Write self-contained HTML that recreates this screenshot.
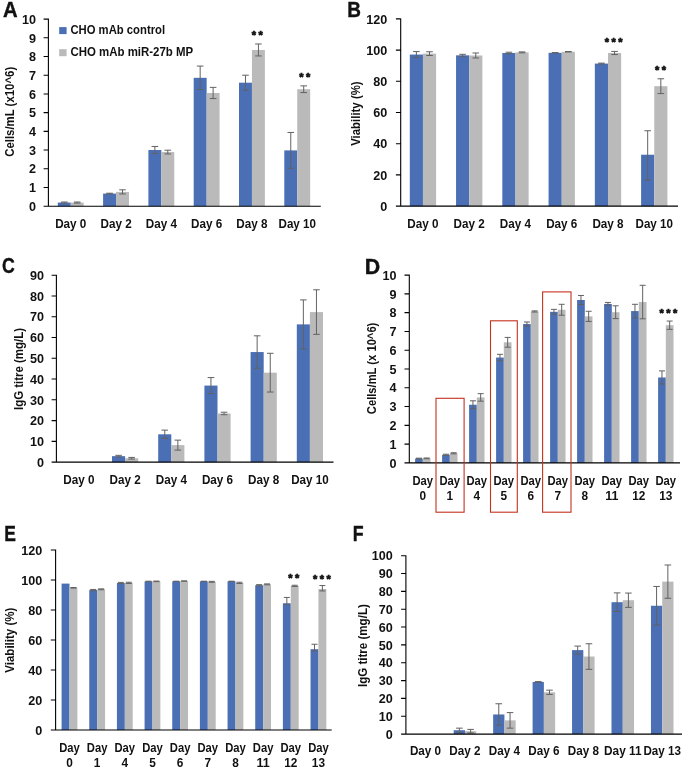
<!DOCTYPE html>
<html lang="en"><head><meta charset="utf-8"><title>Figure</title>
<style>
html,body{margin:0;padding:0;background:#fff}
svg{display:block;filter:blur(0.3px)}
text{font-family:"Liberation Sans",Arial,sans-serif;font-weight:bold;fill:#111}
</style></head><body>
<svg width="685" height="770" viewBox="0 0 685 770">
<rect width="685" height="770" fill="#fff"/>
<rect x="57.80" y="202.56" width="12.94" height="3.64" fill="#4a6fb5"/>
<rect x="70.74" y="202.56" width="12.94" height="3.64" fill="#bababa"/>
<rect x="103.10" y="193.58" width="12.94" height="12.62" fill="#4a6fb5"/>
<rect x="116.04" y="191.9" width="12.94" height="14.30" fill="#bababa"/>
<rect x="148.40" y="150.01" width="12.94" height="56.19" fill="#4a6fb5"/>
<rect x="161.34" y="152.07" width="12.94" height="54.13" fill="#bababa"/>
<rect x="193.70" y="77.83" width="12.94" height="128.37" fill="#4a6fb5"/>
<rect x="206.64" y="92.98" width="12.94" height="113.22" fill="#bababa"/>
<rect x="239.00" y="82.69" width="12.94" height="123.51" fill="#4a6fb5"/>
<rect x="251.94" y="49.97" width="12.94" height="156.23" fill="#bababa"/>
<rect x="284.30" y="150.39" width="12.94" height="55.81" fill="#4a6fb5"/>
<rect x="297.24" y="89.24" width="12.94" height="116.96" fill="#bababa"/>
<path d="M64.27 202.0V203.12M60.97 202.0h6.6M60.97 203.12h6.6M77.21 202.0V203.12M73.91 202.0h6.6M73.91 203.12h6.6M109.57 193.21V193.96M106.27 193.21h6.6M106.27 193.96h6.6M122.51 189.84V193.96M119.21 189.84h6.6M119.21 193.96h6.6M154.87 146.46V153.57M151.57 146.46h6.6M151.57 153.57h6.6M167.81 150.2V153.94M164.51 150.2h6.6M164.51 153.94h6.6M200.17 66.05V89.61M196.87 66.05h6.6M196.87 89.61h6.6M213.11 87.37V98.59M209.81 87.37h6.6M209.81 98.59h6.6M245.47 75.21V90.17M242.17 75.21h6.6M242.17 90.17h6.6M258.41 43.98V55.95M255.11 43.98h6.6M255.11 55.95h6.6M290.77 132.44V168.34M287.47 132.44h6.6M287.47 168.34h6.6M303.71 85.87V92.6M300.41 85.87h6.6M300.41 92.6h6.6" stroke="#626262" stroke-width="1" fill="none"/>
<path d="M48.4 18.6V206.2M47.9 206.2H320.8M43.6 206.2H48.4M43.6 187.49H48.4M43.6 168.78H48.4M43.6 150.07H48.4M43.6 131.36H48.4M43.6 112.65H48.4M43.6 93.94H48.4M43.6 75.23H48.4M43.6 56.52H48.4M43.6 37.81H48.4M43.6 19.1H48.4" stroke="#000" stroke-width="1.1" fill="none"/>
<text x="35.9" y="210.9" font-size="12.6" text-anchor="end">0</text>
<text x="35.9" y="192.19" font-size="12.6" text-anchor="end">1</text>
<text x="35.9" y="173.48" font-size="12.6" text-anchor="end">2</text>
<text x="35.9" y="154.77" font-size="12.6" text-anchor="end">3</text>
<text x="35.9" y="136.06" font-size="12.6" text-anchor="end">4</text>
<text x="35.9" y="117.35" font-size="12.6" text-anchor="end">5</text>
<text x="35.9" y="98.64" font-size="12.6" text-anchor="end">6</text>
<text x="35.9" y="79.93" font-size="12.6" text-anchor="end">7</text>
<text x="35.9" y="61.22" font-size="12.6" text-anchor="end">8</text>
<text x="35.9" y="42.51" font-size="12.6" text-anchor="end">9</text>
<text x="35.9" y="23.8" font-size="12.6" text-anchor="end">10</text>
<text x="70.74" y="228.1" font-size="12.6" text-anchor="middle" textLength="31.2" lengthAdjust="spacingAndGlyphs">Day 0</text>
<text x="116.04" y="228.1" font-size="12.6" text-anchor="middle" textLength="31.2" lengthAdjust="spacingAndGlyphs">Day 2</text>
<text x="161.34" y="228.1" font-size="12.6" text-anchor="middle" textLength="31.2" lengthAdjust="spacingAndGlyphs">Day 4</text>
<text x="206.64" y="228.1" font-size="12.6" text-anchor="middle" textLength="31.2" lengthAdjust="spacingAndGlyphs">Day 6</text>
<text x="251.94" y="228.1" font-size="12.6" text-anchor="middle" textLength="31.2" lengthAdjust="spacingAndGlyphs">Day 8</text>
<text x="297.24" y="228.1" font-size="12.6" text-anchor="middle" textLength="37.5" lengthAdjust="spacingAndGlyphs">Day 10</text>
<text x="14" y="111.8" font-size="12.6" text-anchor="middle" textLength="90" lengthAdjust="spacingAndGlyphs" transform="rotate(-90 14 111.8)">Cells/mL (x10^6)</text>
<text x="258.63" y="38.9" font-size="11" text-anchor="middle" letter-spacing="2.47" stroke="#111" stroke-width="0.7">**</text>
<text x="306.13" y="81.0" font-size="11" text-anchor="middle" letter-spacing="2.47" stroke="#111" stroke-width="0.7">**</text>
<text x="2.9" y="16.7" font-size="21.4" textLength="14.64" lengthAdjust="spacingAndGlyphs" stroke="#111" stroke-width="0.4">A</text>
<rect x="409.80" y="54.55" width="13.15" height="151.55" fill="#4a6fb5"/>
<rect x="422.95" y="53.62" width="13.15" height="152.48" fill="#bababa"/>
<rect x="456.06" y="55.33" width="13.15" height="150.77" fill="#4a6fb5"/>
<rect x="469.21" y="55.49" width="13.15" height="150.61" fill="#bababa"/>
<rect x="502.32" y="52.99" width="13.15" height="153.11" fill="#4a6fb5"/>
<rect x="515.47" y="52.37" width="13.15" height="153.73" fill="#bababa"/>
<rect x="548.58" y="52.84" width="13.15" height="153.26" fill="#4a6fb5"/>
<rect x="561.73" y="51.75" width="13.15" height="154.35" fill="#bababa"/>
<rect x="594.84" y="63.59" width="13.15" height="142.51" fill="#4a6fb5"/>
<rect x="607.99" y="52.99" width="13.15" height="153.11" fill="#bababa"/>
<rect x="641.10" y="154.73" width="13.15" height="51.37" fill="#4a6fb5"/>
<rect x="654.25" y="86.18" width="13.15" height="119.92" fill="#bababa"/>
<path d="M416.38 51.59V57.51M413.07 51.59h6.6M413.07 57.51h6.6M429.52 51.75V55.49M426.22 51.75h6.6M426.22 55.49h6.6M462.63 54.32V56.34M459.33 54.32h6.6M459.33 56.34h6.6M475.78 52.99V57.98M472.48 52.99h6.6M472.48 57.98h6.6M508.89 52.21V53.77M505.59 52.21h6.6M505.59 53.77h6.6M522.05 51.9V52.84M518.75 51.9h6.6M518.75 52.84h6.6M555.16 52.6V53.07M551.86 52.6h6.6M551.86 53.07h6.6M568.31 51.51V51.98M565.01 51.51h6.6M565.01 51.98h6.6M601.42 63.12V64.05M598.12 63.12h6.6M598.12 64.05h6.6M614.57 51.43V54.55M611.27 51.43h6.6M611.27 54.55h6.6M647.68 130.74V180.13M644.38 130.74h6.6M644.38 180.13h6.6M660.83 78.78V93.58M657.53 78.78h6.6M657.53 93.58h6.6" stroke="#626262" stroke-width="1" fill="none"/>
<path d="M400.7 18.4V206.1M400.2 206.1H678M395.9 206.1H400.7M395.9 174.9H400.7M395.9 143.7H400.7M395.9 112.5H400.7M395.9 81.3H400.7M395.9 50.1H400.7M395.9 18.9H400.7" stroke="#000" stroke-width="1.1" fill="none"/>
<text x="387.2" y="210.8" font-size="12.6" text-anchor="end">0</text>
<text x="387.2" y="179.6" font-size="12.6" text-anchor="end">20</text>
<text x="387.2" y="148.4" font-size="12.6" text-anchor="end">40</text>
<text x="387.2" y="117.2" font-size="12.6" text-anchor="end">60</text>
<text x="387.2" y="86.0" font-size="12.6" text-anchor="end">80</text>
<text x="387.2" y="54.8" font-size="12.6" text-anchor="end">100</text>
<text x="387.2" y="23.6" font-size="12.6" text-anchor="end">120</text>
<text x="422.95" y="228.1" font-size="12.6" text-anchor="middle" textLength="31.2" lengthAdjust="spacingAndGlyphs">Day 0</text>
<text x="469.21" y="228.1" font-size="12.6" text-anchor="middle" textLength="31.2" lengthAdjust="spacingAndGlyphs">Day 2</text>
<text x="515.47" y="228.1" font-size="12.6" text-anchor="middle" textLength="31.2" lengthAdjust="spacingAndGlyphs">Day 4</text>
<text x="561.73" y="228.1" font-size="12.6" text-anchor="middle" textLength="31.2" lengthAdjust="spacingAndGlyphs">Day 6</text>
<text x="607.99" y="228.1" font-size="12.6" text-anchor="middle" textLength="31.2" lengthAdjust="spacingAndGlyphs">Day 8</text>
<text x="654.25" y="228.1" font-size="12.6" text-anchor="middle" textLength="37.5" lengthAdjust="spacingAndGlyphs">Day 10</text>
<text x="360" y="113.6" font-size="12.6" text-anchor="middle" textLength="64.5" lengthAdjust="spacingAndGlyphs" transform="rotate(-90 360 113.6)">Viability (%)</text>
<text x="614.9300000000001" y="45.6" font-size="11" text-anchor="middle" letter-spacing="2.47" stroke="#111" stroke-width="0.7">***</text>
<text x="661.83" y="74.39999999999999" font-size="11" text-anchor="middle" letter-spacing="2.47" stroke="#111" stroke-width="0.7">**</text>
<text x="347.23" y="16.7" font-size="21.4" textLength="13.68" lengthAdjust="spacingAndGlyphs" stroke="#111" stroke-width="0.4">B</text>
<rect x="112.00" y="456.16" width="13.10" height="5.94" fill="#4a6fb5"/>
<rect x="125.10" y="458.24" width="13.10" height="3.86" fill="#bababa"/>
<rect x="158.20" y="434.3" width="13.10" height="27.80" fill="#4a6fb5"/>
<rect x="171.30" y="445.13" width="13.10" height="16.97" fill="#bababa"/>
<rect x="204.40" y="385.58" width="13.10" height="76.52" fill="#4a6fb5"/>
<rect x="217.50" y="413.48" width="13.10" height="48.62" fill="#bababa"/>
<rect x="250.60" y="352.06" width="13.10" height="110.04" fill="#4a6fb5"/>
<rect x="263.70" y="372.67" width="13.10" height="89.43" fill="#bababa"/>
<rect x="296.80" y="324.37" width="13.10" height="137.73" fill="#4a6fb5"/>
<rect x="309.90" y="312.09" width="13.10" height="150.01" fill="#bababa"/>
<path d="M118.55 455.33V457.0M115.25 455.33h6.6M115.25 457.0h6.6M131.65 457.41V459.08M128.35 457.41h6.6M128.35 459.08h6.6M164.75 430.14V438.47M161.45 430.14h6.6M161.45 438.47h6.6M177.85 440.13V450.12M174.55 440.13h6.6M174.55 450.12h6.6M210.95 377.57V393.6M207.65 377.57h6.6M207.65 393.6h6.6M224.05 412.23V414.73M220.75 412.23h6.6M220.75 414.73h6.6M257.15 335.82V368.3M253.85 335.82h6.6M253.85 368.3h6.6M270.25 353.31V392.04M266.95 353.31h6.6M266.95 392.04h6.6M303.35 299.91V348.84M300.05 299.91h6.6M300.05 348.84h6.6M316.45 289.81V334.37M313.15 289.81h6.6M313.15 334.37h6.6" stroke="#626262" stroke-width="1" fill="none"/>
<path d="M56.4 274.76V462.1M55.9 462.1H333.5M51.6 462.1H56.4M51.6 441.34H56.4M51.6 420.58H56.4M51.6 399.82H56.4M51.6 379.06H56.4M51.6 358.3H56.4M51.6 337.54H56.4M51.6 316.78H56.4M51.6 296.02H56.4M51.6 275.26H56.4" stroke="#000" stroke-width="1.1" fill="none"/>
<text x="44.1" y="466.8" font-size="12.6" text-anchor="end">0</text>
<text x="44.1" y="446.04" font-size="12.6" text-anchor="end">10</text>
<text x="44.1" y="425.28" font-size="12.6" text-anchor="end">20</text>
<text x="44.1" y="404.52" font-size="12.6" text-anchor="end">30</text>
<text x="44.1" y="383.76" font-size="12.6" text-anchor="end">40</text>
<text x="44.1" y="363.0" font-size="12.6" text-anchor="end">50</text>
<text x="44.1" y="342.24" font-size="12.6" text-anchor="end">60</text>
<text x="44.1" y="321.48" font-size="12.6" text-anchor="end">70</text>
<text x="44.1" y="300.72" font-size="12.6" text-anchor="end">80</text>
<text x="44.1" y="279.96" font-size="12.6" text-anchor="end">90</text>
<text x="78.9" y="483.8" font-size="12.6" text-anchor="middle" textLength="31.2" lengthAdjust="spacingAndGlyphs">Day 0</text>
<text x="125.1" y="483.8" font-size="12.6" text-anchor="middle" textLength="31.2" lengthAdjust="spacingAndGlyphs">Day 2</text>
<text x="171.3" y="483.8" font-size="12.6" text-anchor="middle" textLength="31.2" lengthAdjust="spacingAndGlyphs">Day 4</text>
<text x="217.5" y="483.8" font-size="12.6" text-anchor="middle" textLength="31.2" lengthAdjust="spacingAndGlyphs">Day 6</text>
<text x="263.7" y="483.8" font-size="12.6" text-anchor="middle" textLength="31.2" lengthAdjust="spacingAndGlyphs">Day 8</text>
<text x="309.9" y="483.8" font-size="12.6" text-anchor="middle" textLength="37.5" lengthAdjust="spacingAndGlyphs">Day 10</text>
<text x="22.6" y="369" font-size="12.6" text-anchor="middle" textLength="82" lengthAdjust="spacingAndGlyphs" transform="rotate(-90 22.6 369)">IgG titre (mg/L)</text>
<text x="2.07" y="272.8" font-size="21.4" textLength="12.81" lengthAdjust="spacingAndGlyphs" stroke="#111" stroke-width="0.4">C</text>
<rect x="415.10" y="458.55" width="7.71" height="4.35" fill="#4a6fb5"/>
<rect x="422.81" y="458.36" width="7.71" height="4.54" fill="#bababa"/>
<rect x="442.10" y="454.79" width="7.71" height="8.11" fill="#4a6fb5"/>
<rect x="449.81" y="453.28" width="7.71" height="9.62" fill="#bababa"/>
<rect x="469.10" y="404.75" width="7.71" height="58.15" fill="#4a6fb5"/>
<rect x="476.81" y="397.42" width="7.71" height="65.48" fill="#bababa"/>
<rect x="496.10" y="357.54" width="7.71" height="105.36" fill="#4a6fb5"/>
<rect x="503.81" y="342.3" width="7.71" height="120.60" fill="#bababa"/>
<rect x="523.10" y="324.06" width="7.71" height="138.84" fill="#4a6fb5"/>
<rect x="530.81" y="311.46" width="7.71" height="151.44" fill="#bababa"/>
<rect x="550.10" y="311.83" width="7.71" height="151.07" fill="#4a6fb5"/>
<rect x="557.81" y="309.76" width="7.71" height="153.14" fill="#bababa"/>
<rect x="577.10" y="299.98" width="7.71" height="162.92" fill="#4a6fb5"/>
<rect x="584.81" y="316.35" width="7.71" height="146.55" fill="#bababa"/>
<rect x="604.10" y="303.93" width="7.71" height="158.97" fill="#4a6fb5"/>
<rect x="611.81" y="312.21" width="7.71" height="150.69" fill="#bababa"/>
<rect x="631.10" y="311.08" width="7.71" height="151.82" fill="#4a6fb5"/>
<rect x="638.81" y="302.05" width="7.71" height="160.85" fill="#bababa"/>
<rect x="658.10" y="377.48" width="7.71" height="85.42" fill="#4a6fb5"/>
<rect x="665.81" y="325.19" width="7.71" height="137.71" fill="#bababa"/>
<path d="M418.96 458.17V458.93M415.96 458.17h6.0M415.96 458.93h6.0M426.67 457.99V458.74M423.67 457.99h6.0M423.67 458.74h6.0M445.96 454.22V455.35M442.96 454.22h6.0M442.96 455.35h6.0M453.67 452.72V453.85M450.67 452.72h6.0M450.67 453.85h6.0M472.96 400.8V408.7M469.96 400.8h6.0M469.96 408.7h6.0M480.67 393.66V401.18M477.67 393.66h6.0M477.67 401.18h6.0M499.96 354.34V360.74M496.96 354.34h6.0M496.96 360.74h6.0M507.67 337.41V347.19M504.67 337.41h6.0M504.67 347.19h6.0M526.96 321.99V326.13M523.96 321.99h6.0M523.96 326.13h6.0M534.67 310.89V312.02M531.67 310.89h6.0M531.67 312.02h6.0M553.96 309.39V314.28M550.96 309.39h6.0M550.96 314.28h6.0M561.67 304.31V315.22M558.67 304.31h6.0M558.67 315.22h6.0M580.96 295.47V304.5M577.96 295.47h6.0M577.96 304.5h6.0M588.67 311.27V321.43M585.67 311.27h6.0M585.67 321.43h6.0M607.96 302.43V305.44M604.96 302.43h6.0M604.96 305.44h6.0M615.67 305.81V318.6M612.67 305.81h6.0M612.67 318.6h6.0M634.96 304.31V317.85M631.96 304.31h6.0M631.96 317.85h6.0M642.67 285.31V318.79M639.67 285.31h6.0M639.67 318.79h6.0M661.96 370.9V384.06M658.96 370.9h6.0M658.96 384.06h6.0M669.67 321.05V329.33M666.67 321.05h6.0M666.67 329.33h6.0" stroke="#626262" stroke-width="1" fill="none"/>
<path d="M409.3 274.6V462.9M408.8 462.9H680M404.5 462.9H409.3M404.5 444.12H409.3M404.5 425.34H409.3M404.5 406.56H409.3M404.5 387.78H409.3M404.5 369.0H409.3M404.5 350.22H409.3M404.5 331.44H409.3M404.5 312.66H409.3M404.5 293.88H409.3M404.5 275.1H409.3" stroke="#000" stroke-width="1.1" fill="none"/>
<text x="396.5" y="467.6" font-size="12.6" text-anchor="end">0</text>
<text x="396.5" y="448.82" font-size="12.6" text-anchor="end">1</text>
<text x="396.5" y="430.04" font-size="12.6" text-anchor="end">2</text>
<text x="396.5" y="411.26" font-size="12.6" text-anchor="end">3</text>
<text x="396.5" y="392.48" font-size="12.6" text-anchor="end">4</text>
<text x="396.5" y="373.7" font-size="12.6" text-anchor="end">5</text>
<text x="396.5" y="354.92" font-size="12.6" text-anchor="end">6</text>
<text x="396.5" y="336.14" font-size="12.6" text-anchor="end">7</text>
<text x="396.5" y="317.36" font-size="12.6" text-anchor="end">8</text>
<text x="396.5" y="298.58" font-size="12.6" text-anchor="end">9</text>
<text x="396.5" y="279.8" font-size="12.6" text-anchor="end">10</text>
<text x="422.81" y="484.8" font-size="12.6" text-anchor="middle" textLength="20.6" lengthAdjust="spacingAndGlyphs">Day</text>
<text x="422.81" y="500.4" font-size="12.6" text-anchor="middle" textLength="6.6" lengthAdjust="spacingAndGlyphs">0</text>
<text x="449.81" y="484.8" font-size="12.6" text-anchor="middle" textLength="20.6" lengthAdjust="spacingAndGlyphs">Day</text>
<text x="449.81" y="500.4" font-size="12.6" text-anchor="middle" textLength="6.6" lengthAdjust="spacingAndGlyphs">1</text>
<text x="476.81" y="484.8" font-size="12.6" text-anchor="middle" textLength="20.6" lengthAdjust="spacingAndGlyphs">Day</text>
<text x="476.81" y="500.4" font-size="12.6" text-anchor="middle" textLength="6.6" lengthAdjust="spacingAndGlyphs">4</text>
<text x="503.81" y="484.8" font-size="12.6" text-anchor="middle" textLength="20.6" lengthAdjust="spacingAndGlyphs">Day</text>
<text x="503.81" y="500.4" font-size="12.6" text-anchor="middle" textLength="6.6" lengthAdjust="spacingAndGlyphs">5</text>
<text x="530.81" y="484.8" font-size="12.6" text-anchor="middle" textLength="20.6" lengthAdjust="spacingAndGlyphs">Day</text>
<text x="530.81" y="500.4" font-size="12.6" text-anchor="middle" textLength="6.6" lengthAdjust="spacingAndGlyphs">6</text>
<text x="557.81" y="484.8" font-size="12.6" text-anchor="middle" textLength="20.6" lengthAdjust="spacingAndGlyphs">Day</text>
<text x="557.81" y="500.4" font-size="12.6" text-anchor="middle" textLength="6.6" lengthAdjust="spacingAndGlyphs">7</text>
<text x="584.81" y="484.8" font-size="12.6" text-anchor="middle" textLength="20.6" lengthAdjust="spacingAndGlyphs">Day</text>
<text x="584.81" y="500.4" font-size="12.6" text-anchor="middle" textLength="6.6" lengthAdjust="spacingAndGlyphs">8</text>
<text x="611.81" y="484.8" font-size="12.6" text-anchor="middle" textLength="20.6" lengthAdjust="spacingAndGlyphs">Day</text>
<text x="611.81" y="500.4" font-size="12.6" text-anchor="middle" textLength="13.2" lengthAdjust="spacingAndGlyphs">11</text>
<text x="638.81" y="484.8" font-size="12.6" text-anchor="middle" textLength="20.6" lengthAdjust="spacingAndGlyphs">Day</text>
<text x="638.81" y="500.4" font-size="12.6" text-anchor="middle" textLength="13.2" lengthAdjust="spacingAndGlyphs">12</text>
<text x="665.81" y="484.8" font-size="12.6" text-anchor="middle" textLength="20.6" lengthAdjust="spacingAndGlyphs">Day</text>
<text x="665.81" y="500.4" font-size="12.6" text-anchor="middle" textLength="13.2" lengthAdjust="spacingAndGlyphs">13</text>
<text x="376.2" y="368.4" font-size="12.6" text-anchor="middle" textLength="91.5" lengthAdjust="spacingAndGlyphs" transform="rotate(-90 376.2 368.4)">Cells/mL (x 10^6)</text>
<text x="669.63" y="317.1" font-size="11" text-anchor="middle" letter-spacing="2.47" stroke="#111" stroke-width="0.7">***</text>
<text x="364.87" y="273.5" font-size="21.4" textLength="15.43" lengthAdjust="spacingAndGlyphs" stroke="#111" stroke-width="0.4">D</text>
<rect x="61.60" y="583.6" width="7.90" height="146.40" fill="#4a6fb5"/>
<rect x="69.50" y="587.8" width="7.90" height="142.20" fill="#bababa"/>
<rect x="89.26" y="590.05" width="7.90" height="139.95" fill="#4a6fb5"/>
<rect x="97.16" y="589.3" width="7.90" height="140.70" fill="#bababa"/>
<rect x="116.92" y="583.0" width="7.90" height="147.00" fill="#4a6fb5"/>
<rect x="124.82" y="582.85" width="7.90" height="147.15" fill="#bababa"/>
<rect x="144.58" y="581.5" width="7.90" height="148.50" fill="#4a6fb5"/>
<rect x="152.48" y="581.35" width="7.90" height="148.65" fill="#bababa"/>
<rect x="172.24" y="581.35" width="7.90" height="148.65" fill="#4a6fb5"/>
<rect x="180.14" y="581.05" width="7.90" height="148.95" fill="#bababa"/>
<rect x="199.90" y="581.35" width="7.90" height="148.65" fill="#4a6fb5"/>
<rect x="207.80" y="581.8" width="7.90" height="148.20" fill="#bababa"/>
<rect x="227.56" y="581.35" width="7.90" height="148.65" fill="#4a6fb5"/>
<rect x="235.46" y="582.85" width="7.90" height="147.15" fill="#bababa"/>
<rect x="255.22" y="585.25" width="7.90" height="144.75" fill="#4a6fb5"/>
<rect x="263.12" y="584.35" width="7.90" height="145.65" fill="#bababa"/>
<rect x="282.88" y="603.3" width="7.90" height="126.70" fill="#4a6fb5"/>
<rect x="290.78" y="585.85" width="7.90" height="144.15" fill="#bababa"/>
<rect x="310.54" y="649.2" width="7.90" height="80.80" fill="#4a6fb5"/>
<rect x="318.44" y="589.0" width="7.90" height="141.00" fill="#bababa"/>
<path d="M73.45 587.5V588.1M70.45 587.5h6.0M70.45 588.1h6.0M93.21 589.45V590.65M90.21 589.45h6.0M90.21 590.65h6.0M101.11 588.85V589.75M98.11 588.85h6.0M98.11 589.75h6.0M120.87 582.4V583.6M117.87 582.4h6.0M117.87 583.6h6.0M128.77 582.25V583.45M125.77 582.25h6.0M125.77 583.45h6.0M148.53 581.2V581.8M145.53 581.2h6.0M145.53 581.8h6.0M156.43 581.05V581.65M153.43 581.05h6.0M153.43 581.65h6.0M176.19 581.2V581.5M173.19 581.2h6.0M173.19 581.5h6.0M184.09 580.9V581.2M181.09 580.9h6.0M181.09 581.2h6.0M203.85 581.2V581.5M200.85 581.2h6.0M200.85 581.5h6.0M211.75 581.35V582.25M208.75 581.35h6.0M208.75 582.25h6.0M231.51 581.2V581.5M228.51 581.2h6.0M228.51 581.5h6.0M239.41 582.25V583.45M236.41 582.25h6.0M236.41 583.45h6.0M259.17 584.65V585.85M256.17 584.65h6.0M256.17 585.85h6.0M267.07 583.9V584.8M264.07 583.9h6.0M264.07 584.8h6.0M286.83 597.45V604.35M283.83 597.45h6.0M283.83 604.35h6.0M294.73 585.25V586.45M291.73 585.25h6.0M291.73 586.45h6.0M314.49 644.25V651.0M311.49 644.25h6.0M311.49 651.0h6.0M322.39 585.55V590.95M319.39 585.55h6.0M319.39 590.95h6.0" stroke="#626262" stroke-width="1" fill="none"/>
<path d="M55.6 549.5V730M55.1 730H331.7M50.800000000000004 730.0H55.6M50.800000000000004 700.0H55.6M50.800000000000004 670.0H55.6M50.800000000000004 640.0H55.6M50.800000000000004 610.0H55.6M50.800000000000004 580.0H55.6M50.800000000000004 550.0H55.6" stroke="#000" stroke-width="1.1" fill="none"/>
<text x="42.3" y="734.7" font-size="12.6" text-anchor="end">0</text>
<text x="42.3" y="704.7" font-size="12.6" text-anchor="end">20</text>
<text x="42.3" y="674.7" font-size="12.6" text-anchor="end">40</text>
<text x="42.3" y="644.7" font-size="12.6" text-anchor="end">60</text>
<text x="42.3" y="614.7" font-size="12.6" text-anchor="end">80</text>
<text x="42.3" y="584.7" font-size="12.6" text-anchor="end">100</text>
<text x="42.3" y="554.7" font-size="12.6" text-anchor="end">120</text>
<text x="69.5" y="751.6" font-size="12.6" text-anchor="middle" textLength="20.6" lengthAdjust="spacingAndGlyphs">Day</text>
<text x="69.5" y="766.9" font-size="12.6" text-anchor="middle" textLength="6.6" lengthAdjust="spacingAndGlyphs">0</text>
<text x="97.16" y="751.6" font-size="12.6" text-anchor="middle" textLength="20.6" lengthAdjust="spacingAndGlyphs">Day</text>
<text x="97.16" y="766.9" font-size="12.6" text-anchor="middle" textLength="6.6" lengthAdjust="spacingAndGlyphs">1</text>
<text x="124.82" y="751.6" font-size="12.6" text-anchor="middle" textLength="20.6" lengthAdjust="spacingAndGlyphs">Day</text>
<text x="124.82" y="766.9" font-size="12.6" text-anchor="middle" textLength="6.6" lengthAdjust="spacingAndGlyphs">4</text>
<text x="152.48" y="751.6" font-size="12.6" text-anchor="middle" textLength="20.6" lengthAdjust="spacingAndGlyphs">Day</text>
<text x="152.48" y="766.9" font-size="12.6" text-anchor="middle" textLength="6.6" lengthAdjust="spacingAndGlyphs">5</text>
<text x="180.14" y="751.6" font-size="12.6" text-anchor="middle" textLength="20.6" lengthAdjust="spacingAndGlyphs">Day</text>
<text x="180.14" y="766.9" font-size="12.6" text-anchor="middle" textLength="6.6" lengthAdjust="spacingAndGlyphs">6</text>
<text x="207.8" y="751.6" font-size="12.6" text-anchor="middle" textLength="20.6" lengthAdjust="spacingAndGlyphs">Day</text>
<text x="207.8" y="766.9" font-size="12.6" text-anchor="middle" textLength="6.6" lengthAdjust="spacingAndGlyphs">7</text>
<text x="235.46" y="751.6" font-size="12.6" text-anchor="middle" textLength="20.6" lengthAdjust="spacingAndGlyphs">Day</text>
<text x="235.46" y="766.9" font-size="12.6" text-anchor="middle" textLength="6.6" lengthAdjust="spacingAndGlyphs">8</text>
<text x="263.12" y="751.6" font-size="12.6" text-anchor="middle" textLength="20.6" lengthAdjust="spacingAndGlyphs">Day</text>
<text x="263.12" y="766.9" font-size="12.6" text-anchor="middle" textLength="13.2" lengthAdjust="spacingAndGlyphs">11</text>
<text x="290.78" y="751.6" font-size="12.6" text-anchor="middle" textLength="20.6" lengthAdjust="spacingAndGlyphs">Day</text>
<text x="290.78" y="766.9" font-size="12.6" text-anchor="middle" textLength="13.2" lengthAdjust="spacingAndGlyphs">12</text>
<text x="318.44" y="751.6" font-size="12.6" text-anchor="middle" textLength="20.6" lengthAdjust="spacingAndGlyphs">Day</text>
<text x="318.44" y="766.9" font-size="12.6" text-anchor="middle" textLength="13.2" lengthAdjust="spacingAndGlyphs">13</text>
<text x="14.3" y="640.2" font-size="12.6" text-anchor="middle" textLength="65" lengthAdjust="spacingAndGlyphs" transform="rotate(-90 14.3 640.2)">Viability (%)</text>
<text x="295.03000000000003" y="581.9" font-size="11" text-anchor="middle" letter-spacing="2.47" stroke="#111" stroke-width="0.7">**</text>
<text x="323.03000000000003" y="582.9" font-size="11" text-anchor="middle" letter-spacing="2.47" stroke="#111" stroke-width="0.7">***</text>
<text x="4.33" y="540.7" font-size="21.4" textLength="11.65" lengthAdjust="spacingAndGlyphs" stroke="#111" stroke-width="0.4">E</text>
<rect x="453.70" y="730.21" width="11.27" height="3.89" fill="#4a6fb5"/>
<rect x="464.97" y="731.19" width="11.27" height="2.91" fill="#bababa"/>
<rect x="493.15" y="714.47" width="11.27" height="19.63" fill="#4a6fb5"/>
<rect x="504.42" y="720.37" width="11.27" height="13.73" fill="#bababa"/>
<rect x="532.60" y="681.93" width="11.27" height="52.17" fill="#4a6fb5"/>
<rect x="543.87" y="692.3" width="11.27" height="41.80" fill="#bababa"/>
<rect x="572.05" y="650.11" width="11.27" height="83.99" fill="#4a6fb5"/>
<rect x="583.32" y="656.54" width="11.27" height="77.56" fill="#bababa"/>
<rect x="611.50" y="602.19" width="11.27" height="131.91" fill="#4a6fb5"/>
<rect x="622.77" y="600.22" width="11.27" height="133.88" fill="#bababa"/>
<rect x="650.95" y="605.76" width="11.27" height="128.34" fill="#4a6fb5"/>
<rect x="662.22" y="581.63" width="11.27" height="152.47" fill="#bababa"/>
<path d="M459.33 728.15V732.26M456.03 728.15h6.6M456.03 732.26h6.6M470.60 729.4V732.98M467.30 729.4h6.6M467.30 732.98h6.6M498.78 703.75V725.2M495.48 703.75h6.6M495.48 725.2h6.6M510.05 712.6V728.15M506.75 712.6h6.6M506.75 728.15h6.6M538.24 681.58V682.29M534.94 681.58h6.6M534.94 682.29h6.6M549.50 690.16V694.45M546.21 690.16h6.6M546.21 694.45h6.6M577.68 646.08V654.13M574.38 646.08h6.6M574.38 654.13h6.6M588.95 643.76V669.33M585.65 643.76h6.6M585.65 669.33h6.6M617.13 592.89V611.49M613.84 592.89h6.6M613.84 611.49h6.6M628.40 593.07V607.37M625.11 593.07h6.6M625.11 607.37h6.6M656.59 586.45V625.07M653.29 586.45h6.6M653.29 625.07h6.6M667.86 565.0V598.25M664.56 565.0h6.6M664.56 598.25h6.6" stroke="#626262" stroke-width="1" fill="none"/>
<path d="M405.9 555.2V734.1M405.4 734.1H682M401.09999999999997 734.1H405.9M401.09999999999997 716.26H405.9M401.09999999999997 698.42H405.9M401.09999999999997 680.58H405.9M401.09999999999997 662.74H405.9M401.09999999999997 644.9H405.9M401.09999999999997 627.06H405.9M401.09999999999997 609.22H405.9M401.09999999999997 591.38H405.9M401.09999999999997 573.54H405.9M401.09999999999997 555.7H405.9" stroke="#000" stroke-width="1.1" fill="none"/>
<text x="392.8" y="738.8" font-size="12.6" text-anchor="end">0</text>
<text x="392.8" y="720.96" font-size="12.6" text-anchor="end">10</text>
<text x="392.8" y="703.12" font-size="12.6" text-anchor="end">20</text>
<text x="392.8" y="685.28" font-size="12.6" text-anchor="end">30</text>
<text x="392.8" y="667.44" font-size="12.6" text-anchor="end">40</text>
<text x="392.8" y="649.6" font-size="12.6" text-anchor="end">50</text>
<text x="392.8" y="631.76" font-size="12.6" text-anchor="end">60</text>
<text x="392.8" y="613.92" font-size="12.6" text-anchor="end">70</text>
<text x="392.8" y="596.08" font-size="12.6" text-anchor="end">80</text>
<text x="392.8" y="578.24" font-size="12.6" text-anchor="end">90</text>
<text x="392.8" y="560.4" font-size="12.6" text-anchor="end">100</text>
<text x="425.52" y="755.1" font-size="12.6" text-anchor="middle" textLength="31.2" lengthAdjust="spacingAndGlyphs">Day 0</text>
<text x="464.97" y="755.1" font-size="12.6" text-anchor="middle" textLength="31.2" lengthAdjust="spacingAndGlyphs">Day 2</text>
<text x="504.42" y="755.1" font-size="12.6" text-anchor="middle" textLength="31.2" lengthAdjust="spacingAndGlyphs">Day 4</text>
<text x="543.87" y="755.1" font-size="12.6" text-anchor="middle" textLength="31.2" lengthAdjust="spacingAndGlyphs">Day 6</text>
<text x="583.32" y="755.1" font-size="12.6" text-anchor="middle" textLength="31.2" lengthAdjust="spacingAndGlyphs">Day 8</text>
<text x="622.77" y="755.1" font-size="12.6" text-anchor="middle" textLength="37.5" lengthAdjust="spacingAndGlyphs">Day 11</text>
<text x="662.22" y="755.1" font-size="12.6" text-anchor="middle" textLength="37.5" lengthAdjust="spacingAndGlyphs">Day 13</text>
<text x="367.2" y="645.6" font-size="12.6" text-anchor="middle" textLength="82.8" lengthAdjust="spacingAndGlyphs" transform="rotate(-90 367.2 645.6)">IgG titre (mg/L)</text>
<text x="352.81" y="540.7" font-size="21.4" textLength="10.84" lengthAdjust="spacingAndGlyphs" stroke="#111" stroke-width="0.4">F</text>
<rect x="436" y="398.3" width="28.1" height="113.9" fill="none" stroke="#c4321f" stroke-width="1.1"/>
<rect x="490.5" y="320.8" width="26.8" height="191.4" fill="none" stroke="#c4321f" stroke-width="1.1"/>
<rect x="542.6" y="291.9" width="28.4" height="220.3" fill="none" stroke="#c4321f" stroke-width="1.1"/>
<rect x="59.2" y="27.1" width="7.4" height="7" fill="#4a6fb5"/>
<rect x="59.2" y="49.2" width="7.4" height="7" fill="#bababa"/>
<text x="70.4" y="34" font-size="12.6" textLength="94.7" lengthAdjust="spacingAndGlyphs">CHO mAb control</text>
<text x="70.4" y="56.2" font-size="12.6" textLength="122.8" lengthAdjust="spacingAndGlyphs">CHO mAb miR-27b MP</text>
</svg>
</body></html>
